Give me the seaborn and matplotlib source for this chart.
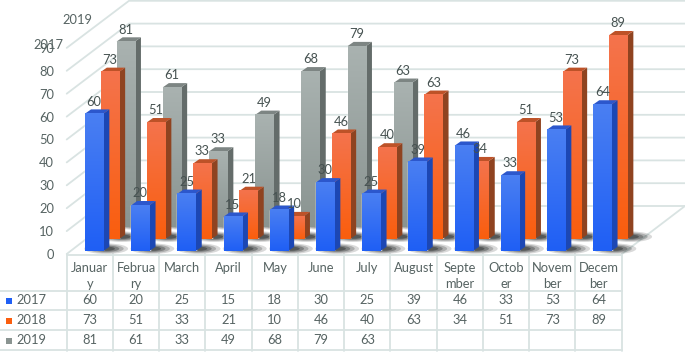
import numpy as np
import pandas as pd
import matplotlib
matplotlib.use('Agg')
import matplotlib.pyplot as plt
import seaborn as sns
from matplotlib.patches import Polygon, Ellipse, Rectangle
from matplotlib.colors import LinearSegmentedColormap

meses = ['January', 'February', 'March', 'April', 'May', 'June', 'July',
         'August', 'September', 'October', 'November', 'December']
rotulos = ['Januar\ny', 'Februa\nry', 'March', 'April', 'May', 'June', 'July',
           'August', 'Septe\nmber', 'Octob\ner', 'Novem\nber', 'Decem\nber']
v2017 = [60, 20, 25, 15, 18, 30, 25, 39, 46, 33, 53, 64]
v2018 = [73, 51, 33, 21, 10, 46, 40, 63, 34, 51, 73, 89]
v2019 = [81, 61, 33, 49, 68, 79, 63, np.nan, np.nan, np.nan, np.nan, np.nan]
anos = ['2017', '2018', '2019']
series = [v2017, v2018, v2019]
yticks = [0, 10, 20, 30, 40, 50, 60, 70, 80, 90]

# topo, base, lado, tampa
cores = {
    '2017': ('#4a7ff2', '#1f5ff5', '#1c47b4', '#2c57cc'),
    '2018': ('#f4734c', '#fa5e0e', '#8f4320', '#bd5228'),
    '2019': ('#a9b2b0', '#8a9491', '#646c6a', '#7d8583'),
}
cinza = '#566362'
linha = '#d9e3e2'
FONTE = 9.3

W, H = 685, 352
PASSO = 46.2
ESCALA = 2.29

sns.set_theme(style='white')
plt.rcParams['font.family'] = ['Lato', 'DejaVu Sans']

fig = plt.figure(figsize=(W / 100, H / 100), dpi=100, facecolor='white')


def eixo_px(esq, topo, larg, alt, z):
    ax = fig.add_axes([esq / W, 1 - (topo + alt) / H, larg / W, alt / H], zorder=z)
    ax.patch.set_alpha(0)
    return ax


# fundo: paredes, chao e tabela em pixels
fundo = eixo_px(0, 0, W, H, 0)
fundo.set_xlim(0, W)
fundo.set_ylim(H, 0)
fundo.axis('off')
for v in yticks:
    yf = 254 - ESCALA * v
    yt = 206 - 2.28 * v
    fundo.plot([66.7, 129, 685], [yf, yt, yt], color=linha, lw=1.3)
fundo.plot([622, 685], [254, 206], color=linha, lw=1.3)
fundo.plot([66.7, 622], [254.5, 254.5], color=linha, lw=1.3)

xs_tabela = [66.7 + 46.25 * i for i in range(13)]
for x in xs_tabela:
    fundo.plot([x, x], [254, 350.5], color=linha, lw=1.3)
for y in [290.7, 310.3, 330.3, 350.3]:
    fundo.plot([0, 621.7], [y, y], color=linha, lw=1.3)

for i, rot in enumerate(rotulos):
    cx = (xs_tabela[i] + xs_tabela[i + 1]) / 2
    partes = rot.split('\n')
    for j, p in enumerate(partes):
        fundo.text(cx, 267.5 + 16.5 * j, p, ha='center', va='center', fontsize=FONTE,
                   color=cinza)

for k, (ano, vals) in enumerate(zip(anos, series)):
    yl = 300.5 + 20 * k
    fundo.add_patch(Rectangle((6, yl - 3), 6.5, 6.5, color=cores[ano][1], lw=0))
    fundo.text(16, yl, ano, ha='left', va='center', fontsize=FONTE, color=cinza)
    for i, v in enumerate(vals):
        if not np.isnan(v):
            cx = (xs_tabela[i] + xs_tabela[i + 1]) / 2
            fundo.text(cx, yl, str(v), ha='center', va='center', fontsize=FONTE, color=cinza)

# rotulos das series no eixo de profundidade
fundo.text(48, 45, '2017', ha='center', va='center', fontsize=FONTE, color=cinza)
fundo.text(77, 20, '2019', ha='center', va='center', fontsize=FONTE, color=cinza)

# eixo y de verdade, so com os numeros
eixo_y = eixo_px(66.7, 254 - ESCALA * 90, 555, ESCALA * 90, 1)
eixo_y.set_ylim(0, 90)
eixo_y.set_xticks([])
eixo_y.set_yticks(yticks)
eixo_y.tick_params(axis='y', length=0, pad=9, labelsize=FONTE, labelcolor=cinza)
sns.despine(ax=eixo_y, left=True, bottom=True)

# uma camada de eixos por serie, deslocada para dar a profundidade
LARG_BARRA = 18.3 / PASSO
DX = 6 / PASSO
DY = 4.2 / ESCALA
eixos = {}
for k in [2, 1, 0]:
    ano = anos[k]
    topo_c, base_c, lado_c, tampa_c = cores[ano]
    esq = 71.1 + 15.8 * k
    base_px = 251 - 12 * k
    ax = eixo_px(esq, base_px - ESCALA * 90, PASSO * 12, ESCALA * 90, 10 - k)
    df = pd.DataFrame({'mes': meses, 'valor': series[k]})
    sns.barplot(data=df, x='mes', y='valor', order=meses, color=base_c, width=LARG_BARRA,
                saturation=1, ax=ax, zorder=2)
    ax.set_xlim(-0.5, 11.5)
    ax.set_ylim(0, 90)
    ax.axis('off')
    grad = LinearSegmentedColormap.from_list('g' + ano, [topo_c, base_c])
    for b in list(ax.patches):
        x0, w, h = b.get_x(), b.get_width(), b.get_height()
        if np.isnan(h) or h == 0:
            continue
        x1 = x0 + w
        # sombra no chao
        for f, a in [(1.0, 0.16), (0.8, 0.22), (0.6, 0.30), (0.4, 0.38)]:
            ax.add_patch(Ellipse((x1 + 0.06, 1.0), 0.95 * f, 4.6 * f, color='#141818', alpha=a,
                                 lw=0, zorder=1, clip_on=False))
        ax.add_patch(Polygon([(x1, 0), (x1 + DX, DY), (x1 + DX, h + DY), (x1, h)],
                             color=lado_c, lw=0, zorder=3, clip_on=False))
        ax.add_patch(Polygon([(x0, h), (x0 + DX, h + DY), (x1 + DX, h + DY), (x1, h)],
                             color=tampa_c, lw=0, zorder=3, clip_on=False))
        ax.imshow(np.linspace(0, 1, 64).reshape(-1, 1), cmap=grad, aspect='auto',
                  extent=(x0, x1, 0, h), zorder=4, origin='upper')
    ax.set_xlim(-0.5, 11.5)
    ax.set_ylim(0, 90)
    eixos[ano] = ax

# rotulos de dados por cima de tudo
frente = eixos['2017']
for ano, vals in zip(anos, series):
    for i, v in enumerate(vals):
        if np.isnan(v):
            continue
        frente.annotate(str(v), xy=(i, v), xycoords=eixos[ano].transData,
                        xytext=(0, 8.6), textcoords='offset points', ha='center', va='center',
                        fontsize=FONTE, color='#465251', zorder=20, annotation_clip=False)

fig.savefig('out.png', dpi=100)
